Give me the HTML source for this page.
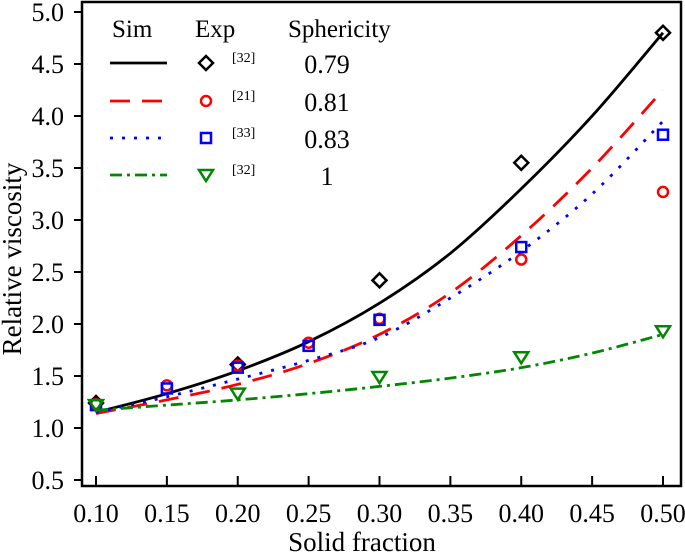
<!DOCTYPE html>
<html><head><meta charset="utf-8"><style>
body{margin:0;background:#fff}
svg text{font-family:"Liberation Serif",serif;fill:#000}
</style></head><body>
<svg id="c" width="685" height="552" xmlns="http://www.w3.org/2000/svg"></svg>
<script>
const xs=[0.10,0.15,0.20,0.25,0.30,0.35,0.40,0.45,0.50];
const simBlack=[1.15,1.33,1.55,1.83,2.2,2.68,3.3,4.0,4.8];
const simRed=[1.14,1.27,1.42,1.62,1.9,2.3,2.85,3.5,4.25];
const simBlue=[1.15,1.3,1.47,1.65,1.87,2.25,2.7,3.25,3.95];
const simGreen=[1.17,1.22,1.27,1.33,1.40,1.48,1.58,1.72,1.9];
const expBlackX=[0.1,0.2,0.3,0.4,0.5];
const expBlack=[1.24,1.61,2.42,3.55,4.80];
const expRedX=[0.1,0.15,0.2,0.25,0.3,0.4,0.5];
const expRed=[1.23,1.41,1.60,1.82,2.05,2.62,3.27];
const expBlueX=[0.1,0.15,0.2,0.25,0.3,0.4,0.5];
const expBlue=[1.22,1.38,1.58,1.79,2.04,2.74,3.82];
const expGreenX=[0.1,0.2,0.3,0.4,0.5];
const expGreen=[1.22,1.33,1.49,1.68,1.93];
const xTicks=["0.10","0.15","0.20","0.25","0.30","0.35","0.40","0.45","0.50"];
const yTicks=["0.5","1.0","1.5","2.0","2.5","3.0","3.5","4.0","4.5","5.0"];
const S=document.getElementById('c'),NS="http://www.w3.org/2000/svg";
const X=v=>96+(v-0.1)*1417.5, Y=v=>480-(v-0.5)*104;
function el(t,a,p){const e=document.createElementNS(NS,t);for(const k in a)e.setAttribute(k,a[k]);(p||S).appendChild(e);return e;}
function tx(x,y,s,sz,anc){const e=el('text',{x:x,y:y,'font-size':sz,'text-anchor':anc||'start'});e.textContent=s;return e;}
function smooth(pts){let d='M'+pts[0][0]+','+pts[0][1];
 for(let i=0;i<pts.length-1;i++){const p0=pts[i-1]||pts[i],p1=pts[i],p2=pts[i+1],p3=pts[i+2]||p2;
  d+=` C${p1[0]+(p2[0]-p0[0])/6},${p1[1]+(p2[1]-p0[1])/6} ${p2[0]-(p3[0]-p1[0])/6},${p2[1]-(p3[1]-p1[1])/6} ${p2[0]},${p2[1]}`;}
 return d;}
const frame=el('rect',{x:82,y:2,width:599,height:484,fill:'none',stroke:'#000','stroke-width':2.5});

xTicks.forEach(t=>{const x=X(+t);el('line',{x1:x,x2:x,y1:486,y2:476,stroke:'#000','stroke-width':2});
 const e=tx(x,522,t,26,'middle');});
yTicks.forEach(t=>{const y=Y(+t);el('line',{x1:74,x2:82,y1:y,y2:y,stroke:'#000','stroke-width':2});
 const e=tx(64,y+9,t,26,'end');});
let xt=tx(362,551,'Solid fraction',27,'middle');
let yt=tx(0,0,'Relative viscosity',27,'middle');yt.setAttribute('transform','translate(21,259) rotate(-90)');

const series=[[simBlack,'#000','',expBlackX,expBlack,'diamond','[32]','0.79'],
[simRed,'#f00','20 12',expRedX,expRed,'circle','[21]','0.81'],
[simBlue,'#00f','3 9',expBlueX,expBlue,'square','[33]','0.83'],
[simGreen,'#080','12 5 3 5',expGreenX,expGreen,'tri','[32]','1']];
function marker(x,y,k,c){const a={fill:'none',stroke:c,'stroke-width':2.5};
 if(k=='diamond')return el('polygon',Object.assign({points:`${x},${y-7} ${x+7},${y} ${x},${y+7} ${x-7},${y}`},a));
 if(k=='circle')return el('circle',Object.assign({cx:x,cy:y,r:5},a));
 if(k=='square')return el('rect',Object.assign({x:x-5,y:y-5,width:10,height:10},a));
 return el('polygon',Object.assign({points:`${x-7},${y-5} ${x+7},${y-5} ${x},${y+6}`},a));}
series.forEach((s,i)=>{
 const p=el('path',{d:smooth(xs.map((v,j)=>[X(v),Y(s[0][j])])),fill:'none',stroke:s[1],'stroke-width':2.8,'stroke-dasharray':s[2]});
 
 s[3].forEach((v,j)=>{const m=marker(X(v),Y(s[4][j]),s[5],s[1]);
  });
 const ly=[63,101,138,175][i];
 const ll=el('line',{x1:110,x2:167,y1:ly,y2:ly,stroke:s[1],'stroke-width':2.8,'stroke-dasharray':s[2]});
 
 const lm=marker(206,ly,s[5],s[1]);
 const r=tx(232,ly-1,s[6],14);
 const v=tx(327,ly+10,s[7],26,'middle');
});
[['Sim',112],['Exp',195],['Sphericity',288]].forEach(h=>{const e=tx(h[1],37,h[0],25);
 });
</script>
</body></html>
